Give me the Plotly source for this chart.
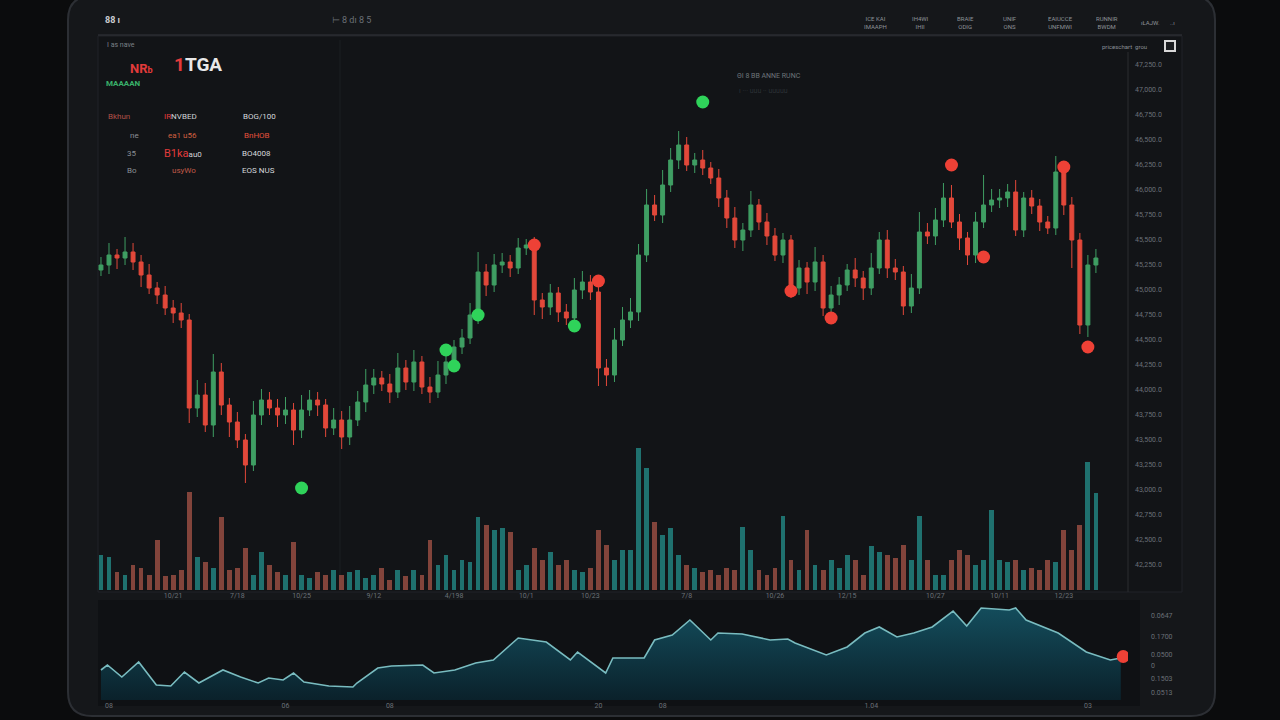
import plotly.graph_objects as go

W, H = 1280, 720

# ---------------- data ----------------
first_open = 45200
closes = [
    45250, 45350, 45320, 45380, 45280, 45150, 45020, 44950, 44820, 44770,
    44700, 43820, 43950, 43650, 44180, 43850, 43680, 43500, 43250, 43750,
    43900, 43820, 43750, 43800, 43600, 43800, 43900, 43850, 43620, 43700,
    43530, 43700, 43880, 44050, 44120, 44060, 43980, 44220, 44080, 44280,
    44030, 43980, 44150, 44280, 44430, 44520, 44750, 45180, 45050, 45250,
    45280, 45220, 45420, 45450, 44900, 44830, 44970, 44780, 44720, 45000,
    45080, 44980, 44220, 44150, 44500, 44700, 44780, 45350, 45850, 45750,
    46050, 46300, 46450, 46250, 46300, 46220, 46120, 45920, 45720, 45500,
    45600, 45850, 45680, 45540, 45350, 45500, 45020, 45220, 45080, 45280,
    44820, 44950, 45050, 45200, 45120, 45020, 45220, 45500, 45220, 45180,
    44840, 45020, 45580, 45540, 45700, 45920, 45680, 45520, 45350, 45680,
    45850, 45900, 45920, 45980, 45600, 45920, 45840, 45680, 45620, 46180,
    45850, 45500, 44650, 45250, 45320,
]
upper_wick = [
    80, 120, 60, 150, 90, 70, 110, 60, 90, 80,
    100, 60, 150, 120, 180, 90, 70, 100, 60, 140,
    110, 80, 90, 130, 70, 150, 100, 80, 60, 120,
    90, 140, 110, 160, 90, 70, 100, 150, 80, 120,
    60, 100, 140, 110, 70, 90, 120, 200, 80, 110,
    90, 70, 100, 60, 80, 70, 90, 60, 80, 120,
    110, 70, 60, 90, 120, 130, 140, 110, 160, 100,
    150, 120, 140, 80, 70, 100, 60, 90, 80, 110,
    70, 140, 60, 90, 80, 70, 50, 80, 60, 150,
    70, 90, 80, 60, 120, 70, 150, 80, 100, 90,
    60, 140, 200, 90, 120, 150, 130, 80, 60, 100,
    300, 110, 90, 80, 120, 60, 80, 70, 60, 160,
    90, 80, 70, 100, 90,
]
lower_wick = [
    60, 90, 110, 70, 80, 120, 60, 90, 70, 100,
    80, 150, 90, 70, 120, 100, 150, 80, 180, 60,
    100, 70, 120, 90, 150, 80, 60, 110, 90, 70,
    120, 80, 60, 100, 90, 70, 110, 60, 80, 90,
    70, 110, 60, 90, 80, 70, 60, 90, 110, 70,
    80, 90, 60, 70, 150, 120, 80, 100, 70, 60,
    90, 80, 180, 110, 70, 60, 80, 90, 70, 60,
    80, 70, 90, 60, 80, 70, 60, 90, 100, 80,
    110, 70, 80, 90, 60, 80, 100, 70, 120, 90,
    80, 70, 100, 60, 90, 120, 70, 60, 100, 80,
    90, 70, 60, 80, 90, 70, 60, 120, 100, 80,
    60, 70, 80, 90, 60, 70, 80, 90, 60, 70,
    100, 280, 90, 120, 80,
]
volume = [
    350, 330, 180, 150, 250, 220, 150, 500, 140, 150,
    200, 980, 330, 280, 220, 730, 200, 220, 420, 150,
    380, 250, 180, 150, 480, 150, 120, 180, 150, 200,
    150, 180, 200, 120, 150, 220, 100, 200, 140, 200,
    150, 500, 250, 350, 200, 300, 280, 730, 650, 600,
    620, 580, 200, 250, 420, 300, 380, 250, 300, 200,
    180, 220, 600, 450, 300, 400, 400, 1420, 1220, 680,
    550, 620, 350, 250, 220, 180, 200, 150, 220, 200,
    630, 400, 200, 150, 220, 740, 300, 200, 600, 250,
    200, 300, 220, 350, 300, 150, 440, 380, 350, 320,
    450, 300, 740, 300, 150, 150, 300, 400, 350, 250,
    300, 800, 300, 280, 300, 200, 220, 200, 300, 280,
    600, 400, 650, 1280, 970,
]

buy_idx = [25, 43, 44, 47, 59, 75]
buy_price = [43020, 44400, 44240, 44750, 44640, 46880]
sell_idx = [54, 62, 86, 91, 106, 110, 120, 123]
sell_price = [45450, 45090, 44990, 44720, 46250, 45330, 46230, 44430]

time_ticks = [9, 17, 25, 34, 44, 53, 61, 73, 84, 93, 104, 112, 120]
time_labels = ["10/21", "7/18", "10/25", "9/12", "4/198", "10/1", "10/23",
               "7/8", "10/26", "12/15", "10/27", "10/11", "12/23"]

area_x = [0, 0.8, 2.6, 4.7, 6.9, 8.7, 10.4, 12.2, 15.2, 17.4, 19.6, 20.9, 22.7,
          24.0, 25.3, 28.4, 31.4, 31.9, 34.5, 36.2, 40.1, 41.5, 44.1, 46.7, 48.9,
          52.0, 55.5, 58.5, 59.4, 62.9, 63.8, 67.7, 69.0, 71.2, 73.4, 76.0, 76.9,
          79.9, 83.4, 85.6, 86.5, 90.4, 93.0, 95.2, 97.0, 99.2, 101.3, 103.6,
          106.2, 107.9, 109.7, 113.2, 114.0, 115.3, 119.3, 122.8, 125.8, 127.1]
area_y = [3.0, 3.5, 2.3, 3.8, 1.5, 1.4, 2.8, 1.7, 3.0, 2.3, 1.7, 2.2, 2.0,
          2.7, 1.8, 1.4, 1.3, 1.7, 3.2, 3.4, 3.5, 2.7, 3.0, 3.7, 4.0,
          6.2, 5.8, 4.0, 4.8, 2.7, 4.2, 4.2, 6.0, 6.5, 8.0, 6.0, 6.7,
          6.6, 6.0, 6.1, 5.7, 4.5, 5.3, 6.7, 7.3, 6.3, 6.7, 7.3,
          8.9, 7.4, 9.2, 9.0, 9.2, 8.0, 6.7, 4.8, 4.0, 4.2]
area_end_x = [127.4]
area_end_y = [4.35]

area_ticks = [0.7, 2.1, 3.4, 4.5, 6.3, 8.4]
area_tick_labels = ["0.0513", "0.1503", "0", "0.0500", "0.1700", "0.0647"]
area_xticks = [1, 23, 36, 62, 70, 96, 123]
area_xlabels = ["08", "06", "08", "20", "08", "1.04", "03"]

price_ticks = list(range(42250, 47450, 250))

# ---------------- derived ----------------
idx = list(range(len(closes)))
opens = [first_open] + closes[:-1]
highs = [max(o, c) + u for o, c, u in zip(opens, closes, upper_wick)]
lows = [min(o, c) - l for o, c, l in zip(opens, closes, lower_wick)]
vol_colors = ["rgba(36,150,146,0.72)" if c >= o else "rgba(168,84,72,0.75)"
              for o, c in zip(opens, closes)]


def px(x):
    return x / W


def py(y):
    return 1 - y / H


fig = go.Figure()

fig.add_trace(go.Bar(x=idx, y=volume, marker=dict(color=vol_colors, line=dict(width=0)),
                     width=0.6, xaxis="x", yaxis="y2", showlegend=False, hoverinfo="skip"))

fig.add_trace(go.Candlestick(
    x=idx, open=opens, high=highs, low=lows, close=closes,
    xaxis="x", yaxis="y",
    increasing=dict(line=dict(color="#3f9e63", width=1), fillcolor="#3f9e63"),
    decreasing=dict(line=dict(color="#e2483a", width=1), fillcolor="#e2483a"),
    whiskerwidth=0, showlegend=False))

fig.add_trace(go.Scatter(x=buy_idx, y=buy_price, mode="markers", xaxis="x", yaxis="y",
                         marker=dict(size=13, color="#2fd35a", line=dict(width=0)),
                         showlegend=False))
fig.add_trace(go.Scatter(x=sell_idx, y=sell_price, mode="markers", xaxis="x", yaxis="y",
                         marker=dict(size=13, color="#ee4136", line=dict(width=0)),
                         showlegend=False))

fig.add_trace(go.Scatter(x=area_x, y=area_y, mode="lines", xaxis="x2", yaxis="y3",
                         line=dict(color="#79bcc0", width=1.6), fill="tozeroy",
                         fillgradient=dict(type="vertical",
                                           colorscale=[[0, "rgba(10,34,44,0.95)"],
                                                       [1, "rgba(20,80,96,0.95)"]]),
                         showlegend=False))
fig.add_trace(go.Scatter(x=area_end_x, y=area_end_y, mode="markers", xaxis="x2", yaxis="y3",
                         marker=dict(size=13, color="#ee4136"), showlegend=False))

tickfont = dict(family="Roboto, DejaVu Sans", size=7, color="#6a7077")


# ---------------- shapes ----------------
def rounded_path(x0, y0, x1, y1, r):
    X0, X1 = px(x0), px(x1)
    Y0, Y1 = py(y0), py(y1)
    rx, ry = r / W, r / H
    return (f"M {X0+rx},{Y0} L {X1-rx},{Y0} Q {X1},{Y0} {X1},{Y0-ry} "
            f"L {X1},{Y1+ry} Q {X1},{Y1} {X1-rx},{Y1} L {X0+rx},{Y1} "
            f"Q {X0},{Y1} {X0},{Y1+ry} L {X0},{Y0-ry} Q {X0},{Y0} {X0+rx},{Y0} Z")


shapes = [
    dict(type="path", path=rounded_path(68, -4, 1215, 716, 24), xref="paper", yref="paper",
         fillcolor="#15171a", line=dict(color="#2c2f34", width=2), layer="below"),
    dict(type="rect", xref="paper", yref="paper", x0=px(98), x1=px(1182), y0=py(592), y1=py(36),
         fillcolor="#121417", line=dict(color="#202328", width=1), layer="below"),
    dict(type="rect", xref="paper", yref="paper", x0=px(98), x1=px(1140), y0=py(706), y1=py(600),
         fillcolor="#0f1114", line=dict(width=0), layer="below"),
    dict(type="line", xref="paper", yref="paper", x0=px(98), x1=px(1182), y0=py(35), y1=py(35),
         line=dict(color="#34373c", width=1)),
    dict(type="line", xref="paper", yref="paper", x0=px(1128), x1=px(1128), y0=py(52), y1=py(592),
         line=dict(color="#2a2d31", width=1)),
    dict(type="line", xref="paper", yref="paper", x0=px(340), x1=px(340), y0=py(40), y1=py(590),
         line=dict(color="#1b1e22", width=1), layer="below"),
    dict(type="rect", xref="paper", yref="paper", x0=px(1165), x1=px(1175), y0=py(51), y1=py(41),
         fillcolor="#1a1c1f", line=dict(color="#d8d8d8", width=2)),
]


# ---------------- texts ----------------
def txt(x, y, text, size=8, color="#8a8f96", anchor="left", bold=False, fam="Roboto, DejaVu Sans"):
    if bold:
        text = f"<b>{text}</b>"
    return dict(x=px(x), y=py(y), xref="paper", yref="paper", text=text, showarrow=False,
                xanchor=anchor, yanchor="middle", font=dict(size=size, color=color, family=fam))


red = "#e23b3b"
annotations = [
    txt(103, 20, "88 ı", 9, "#c9ccd0", bold=True),
    txt(330, 20, "⊢ 8 dı 8 5", 9, "#6b7076"),
    txt(105, 45, "I as nave", 7, "#7b8087"),
    txt(128, 68, f"<span style='color:{red}'>NR</span><span style='color:{red};font-size:9px'>b</span>", 13, red, bold=True),
    txt(172, 64, f"<span style='color:{red}'>1</span>TGA", 19, "#e8e8e8", bold=True),
    txt(104, 83, "MAAAAN", 8, "#39b06a", bold=True),
    txt(106, 117, "Bkhun", 8, "#b05048"),
    txt(128, 135, "ne", 8, "#8a8f96"),
    txt(125, 153, "35", 8, "#8a8f96"),
    txt(125, 170, "Bo", 8, "#8a8f96"),
    txt(162, 117, f"<span style='color:{red}'>IR</span>NVBED", 8, "#cfd2d6"),
    txt(166, 135, "ea1 u56", 8, "#d06040"),
    txt(162, 153, f"<span style='color:{red};font-size:11px'>B1ka</span>au0", 8, "#cfd2d6"),
    txt(170, 170, "usyWo", 8, "#c05a48"),
    txt(241, 117, "BOG/100", 8, "#d5d8dc"),
    txt(242, 135, "BnHOB", 8, "#e2503c"),
    txt(240, 153, "BO4008", 8, "#d5d8dc"),
    txt(240, 170, "EOS NUS", 8, "#d5d8dc"),
    txt(735, 76, "ΘI 8 BB ANNE RUNC", 7, "#6e747a"),
    txt(737, 91, "ı ··· uuu ·· uuuuu", 7, "#2c3136"),
    txt(1100, 46, "priceschart  grou", 6, "#8a8f96"),
]
header_btns = [(875, "ICE KAI<br>IMAAPH"), (920, "IH4WI<br>IHII"), (965, "BRAIE<br>ODIG"),
               (1010, "UNIF<br>ONS"), (1060, "EAIUCCE<br>UNFMWI"), (1107, "RUNNIR<br>BWDM")]
for x, t in header_btns:
    annotations.append(txt(x, 22, t, 6, "#8d9298", anchor="center"))
annotations.append(txt(1150, 22, "ıŁAJW.", 6, "#8d9298", anchor="center"))
annotations.append(txt(1172, 22, "..ı", 6, "#8d9298", anchor="center"))

fig.update_layout(
    width=W, height=H, margin=dict(l=0, r=0, t=0, b=0),
    paper_bgcolor="#0b0c0d", plot_bgcolor="rgba(0,0,0,0)",
    showlegend=False, bargap=0,
    xaxis=dict(domain=[px(98), px(1128)], range=[-0.37, 128], anchor="y",
               showgrid=False, zeroline=False, showline=False, ticks="",
               tickvals=time_ticks, ticktext=time_labels, tickfont=tickfont,
               rangeslider=dict(visible=False)),
    yaxis=dict(domain=[py(590), py(45)], range=[42000, 47450], side="right",
               showgrid=False, zeroline=False, showline=False, ticks="",
               tickvals=price_ticks, ticktext=[f"{v:,.1f}" for v in price_ticks],
               tickfont=tickfont, ticklabelstandoff=6),
    yaxis2=dict(overlaying="y", range=[0, 5450], visible=False),
    xaxis2=dict(domain=[px(98), px(1128)], range=[-0.37, 128], anchor="y3",
                showgrid=False, zeroline=False, showline=False, ticks="",
                tickvals=area_xticks, ticktext=area_xlabels, tickfont=tickfont),
    yaxis3=dict(domain=[py(700), py(605)], range=[0, 9.5], side="right",
                showgrid=False, zeroline=False, showline=False, ticks="",
                tickvals=area_ticks, ticktext=area_tick_labels, tickfont=tickfont,
                ticklabelstandoff=22),
    shapes=shapes, annotations=annotations,
)

fig.write_html("out.html", config={"displayModeBar": False},
               post_script="document.body.style.margin='0px';")
